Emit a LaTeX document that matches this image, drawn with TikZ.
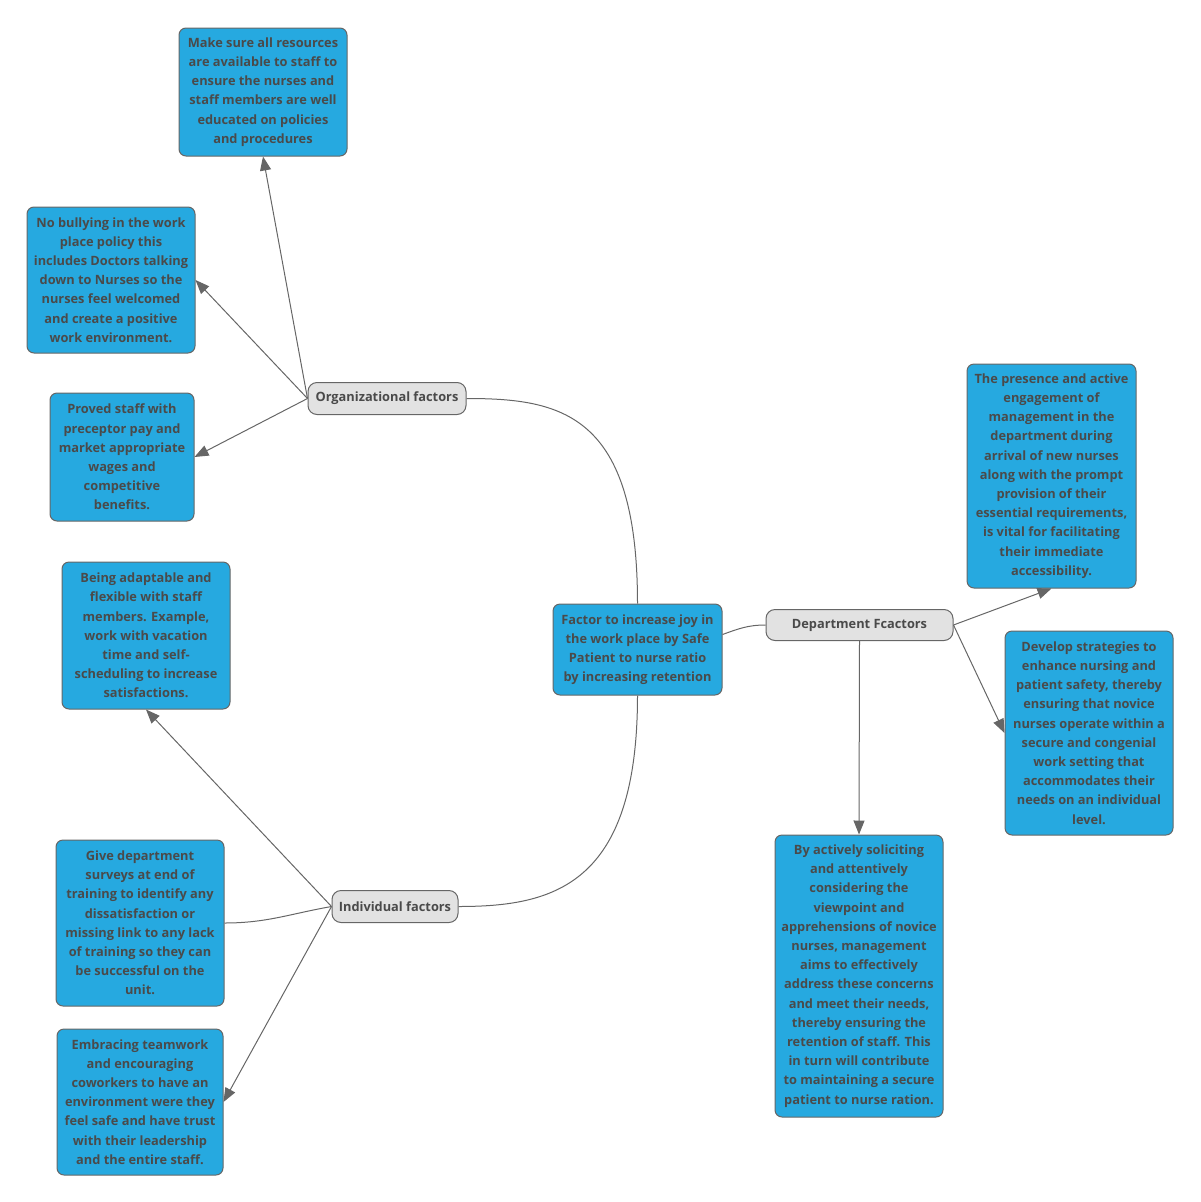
\documentclass[tikz,border=0pt]{standalone}
\usepackage{fontspec}
\setmainfont{Open Sans}
\usepackage{xcolor}
\definecolor{cBox}{HTML}{26A9E0}
\definecolor{cLine}{HTML}{666666}
\definecolor{cText}{HTML}{4A4A4A}
\definecolor{cTopic}{HTML}{E2E2E2}
\usetikzlibrary{arrows.meta}
\tikzset{
  node-idea/.style={draw=cLine,fill=cBox,line width=1pt,rounded corners=7pt,
    inner sep=0pt,align=center,text=cText,
    font=\bfseries\fontsize{12.8}{19.2}\selectfont},
  node-topic/.style={draw=cLine,fill=cTopic,line width=1pt,rounded corners=9pt,
    inner sep=0pt,align=center,text=cText,minimum height=32,
    font=\bfseries\fontsize{12.8}{14}\selectfont},
  arrow/.style={-{Triangle[length=14pt,width=11pt]},line width=1pt,draw=cLine},
  link/.style={line width=1pt,draw=cLine},
}

\begin{document}
\begin{tikzpicture}[x=1pt,y=-1pt]
  \useasboundingbox (0,0) rectangle (1200,1202);
  % centre and the three topics
  \node[node-idea,minimum width=169,minimum height=91] (joy) at (637.5,649.5)
    {Factor to increase joy in\\the work place by Safe\\Patient to nurse ratio\\by increasing retention};
  \node[node-topic,minimum width=158] (org) at (387,398.5) {Organizational factors};
  \node[node-topic,minimum width=126] (indiv) at (395,906.5) {Individual factors};
  \node[node-topic,minimum width=187,minimum height=31] (dept) at (859.5,625) {Department Fcactors};

  % organizational ideas
  \node[node-idea,minimum width=168,minimum height=128] (resources) at (263,92)
    {Make sure all resources\\are available to staff to\\ensure the nurses and\\staff members are well\\educated on policies\\and procedures};
  \node[node-idea,minimum width=168,minimum height=146] (bullying) at (111,280)
    {No bullying in the work\\place policy this\\includes Doctors talking\\down to Nurses so the\\nurses feel welcomed\\and create a positive\\work environment.};
  \node[node-idea,minimum width=144,minimum height=128] (pay) at (122,457)
    {Proved staff with\\preceptor pay and\\market appropriate\\wages and\\competitive\\benefits.};

  % individual ideas
  \node[node-idea,minimum width=168,minimum height=147] (flexible) at (146,635.5)
    {Being adaptable and\\flexible with staff\\members. Example,\\work with vacation\\time and self-\\scheduling to increase\\satisfactions.};
  \node[node-idea,minimum width=168,minimum height=166] (surveys) at (140,923)
    {Give department\\surveys at end of\\training to identify any\\dissatisfaction or\\missing link to any lack\\of training so they can\\be successful on the\\unit.};
  \node[node-idea,minimum width=166,minimum height=146] (teamwork) at (140,1102)
    {Embracing teamwork\\and encouraging\\coworkers to have an\\environment were they\\feel safe and have trust\\with their leadership\\and the entire staff.};

  % department ideas
  \node[node-idea,minimum width=169,minimum height=224] (presence) at (1051.5,476)
    {The presence and active\\engagement of\\management in the\\department during\\arrival of new nurses\\along with the prompt\\provision of their\\essential requirements,\\is vital for facilitating\\their immediate\\accessibility.};
  \node[node-idea,minimum width=168,minimum height=204] (safety) at (1089,733)
    {Develop strategies to\\enhance nursing and\\patient safety, thereby\\ensuring that novice\\nurses operate within a\\secure and congenial\\work setting that\\accommodates their\\needs on an individual\\level.};
  \node[node-idea,minimum width=168,minimum height=282] (soliciting) at (859,976)
    {By actively soliciting\\and attentively\\considering the\\viewpoint and\\apprehensions of novice\\nurses, management\\aims to effectively\\address these concerns\\and meet their needs,\\thereby ensuring the\\retention of staff. This\\in turn will contribute\\to maintaining a secure\\patient to nurse ration.};

  % connectors
  \draw[link] (joy.north) .. controls +(0,-190) and +(95,0) .. (org.east);
  \draw[link] (joy.south) .. controls +(0,190) and +(95,0) .. (indiv.east);
  \draw[link] (joy.10) to[out=20,in=180] (dept.west);

  \draw[arrow] (org.west) -- (resources.south);
  \draw[arrow] (org.west) -- (bullying.east);
  \draw[arrow] (org.west) -- (pay.east);

  \draw[arrow] (indiv.west) -- (flexible.south);
  \draw[link] (surveys.east) to[out=0,in=190] (indiv.west);
  \draw[arrow] (indiv.west) -- (teamwork.east);

  \draw[arrow] (dept.east) -- (presence.south);
  \draw[arrow] (dept.east) -- (safety.west);
  \draw[arrow] (dept.south) -- (soliciting.north);
\end{tikzpicture}
\end{document}
